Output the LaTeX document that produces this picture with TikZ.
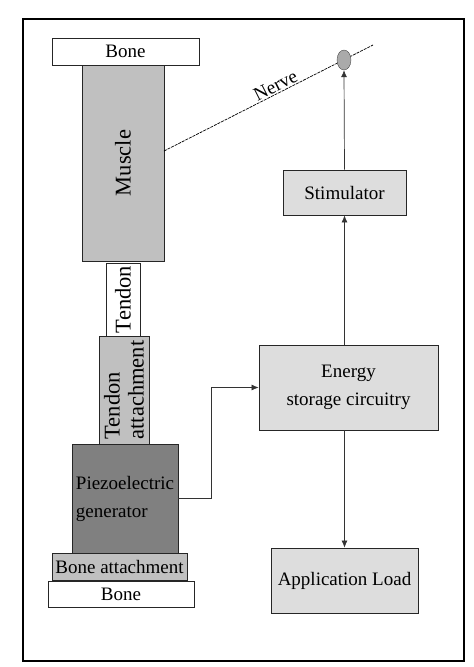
\documentclass[tikz,border=0pt]{standalone}
\usepackage{fontspec}
\setmainfont{Liberation Serif}
\usetikzlibrary{arrows.meta,shapes.geometric}
\definecolor{boxgray}{RGB}{221,221,221}
\definecolor{tissuegray}{RGB}{192,192,192}
\definecolor{piezogray}{RGB}{128,128,128}
\definecolor{synapsegray}{RGB}{170,170,170}

\begin{document}
\begin{tikzpicture}[x=1pt,y=-1pt,
	part/.style={draw=black!85,line width=0.8pt,inner sep=0pt,font=\fontsize{19}{28}\selectfont},
	upright/.style={part,rotate=90,font=\fontsize{22.5}{24}\selectfont},
	link/.style={draw=black!80,line width=0.7pt,-{Latex[length=7pt,width=6pt]}}]
					\useasboundingbox (0,0) rectangle (474,667);
					\draw[line width=1.4pt] (23,19) rectangle (464,661);
					\node[part,fill=white,minimum width=147,minimum height=27] (bonetop) at (125.5,51.5) {Bone};
					\node[upright,fill=tissuegray,minimum width=196,minimum height=82] (muscle) at (123,163) {Muscle};
					\node[upright,fill=white,minimum width=73,minimum height=34] (tendon) at (123,299.5) {Tendon};
					\node[upright,fill=tissuegray,minimum width=108,minimum height=50,align=left] (tendonatt) at (124,390) {Tendon\\attachment};
					\node[part,fill=piezogray,minimum width=106,minimum height=109,align=left] (piezo) at (125,498.5) {Piezoelectric\\generator};
					\node[part,fill=tissuegray,minimum width=135,minimum height=27] (boneatt) at (119.5,566.5) {Bone attachment};
					\node[part,fill=white,minimum width=146,minimum height=26] (bonebot) at (121,594) {Bone};
					\node[part,fill=boxgray,minimum width=123,minimum height=45] (stim) at (344.5,192.5) {Stimulator};
					\node[part,fill=boxgray,minimum width=179,minimum height=85,align=center] (energy) at (348.5,387.5) {Energy\\storage circuitry};
					\node[part,fill=boxgray,minimum width=147,minimum height=65] (load) at (344.5,580.5) {Application Load};
					\coordinate (nervestart) at (164,151);
					\coordinate (nerveend) at (373,45);
					\draw[line width=0.7pt,dash pattern=on 3pt off 1pt] (nervestart) -- node[pos=0.55,sloped,above,inner sep=1pt,font=\fontsize{19}{20}\selectfont] (nervelabel) {Nerve} (nerveend);
					\node[ellipse,draw=black!70,fill=synapsegray,minimum width=14,minimum height=20,inner sep=0pt] (synapse) at (344,60) {};
					\draw[link] (stim.north) -- (synapse.south);
					\draw[link] (stim.south |- energy.north) -- (stim.south);
					\draw[link] (load.north |- energy.south) -- (load.north);
					\draw[link] (piezo.east) -- ++(33,0) |- (energy.west);
				\end{tikzpicture}
\end{document}
